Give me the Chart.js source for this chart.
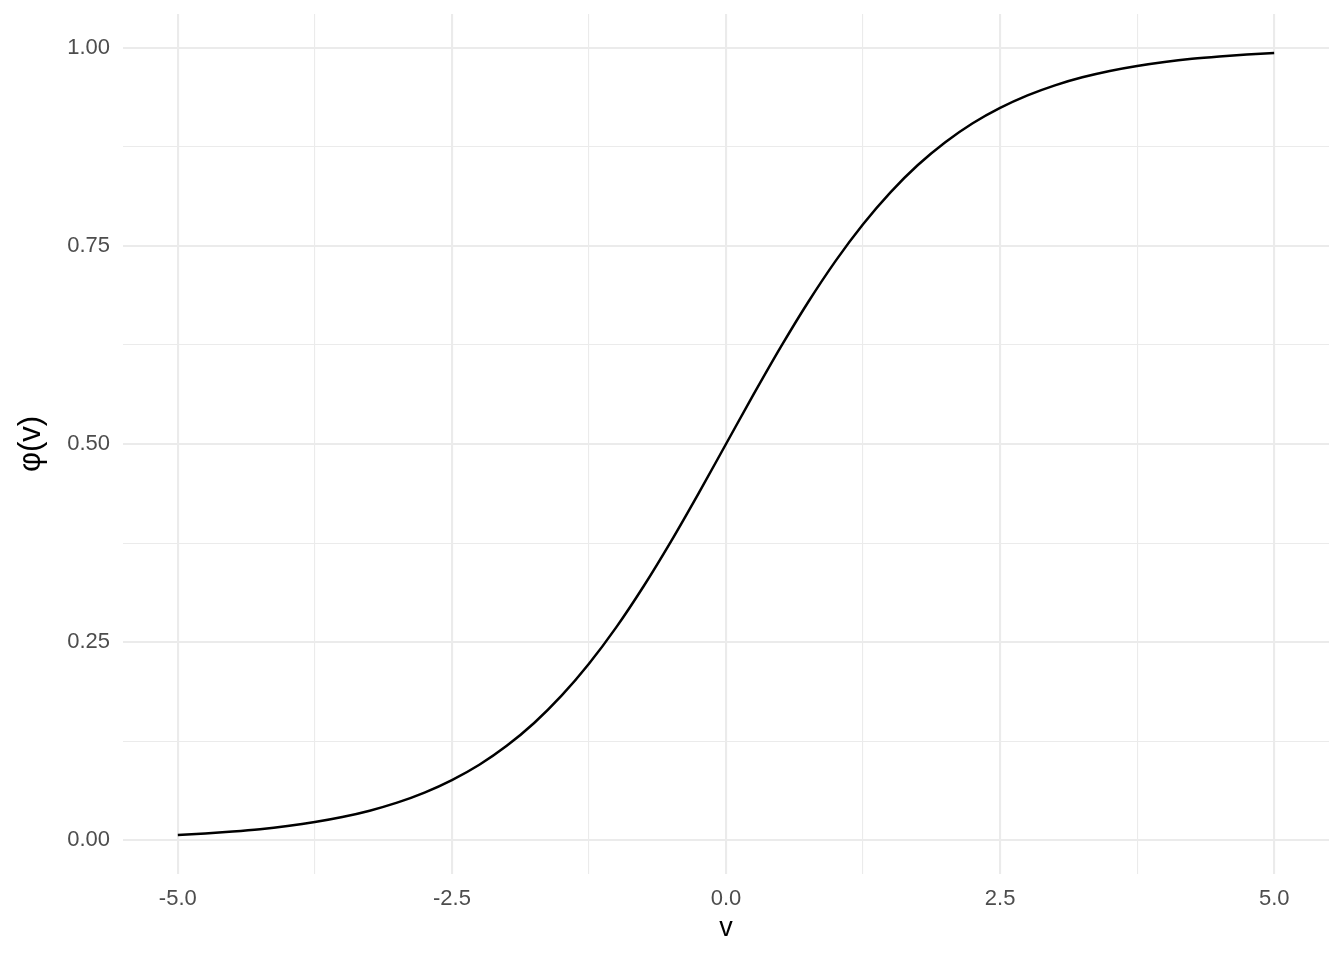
<!DOCTYPE html>
<html>
<head>
<meta charset="utf-8">
<script src="https://cdn.jsdelivr.net/npm/chart.js@4/dist/chart.umd.min.js"></script>
<style>
  html, body { margin: 0; padding: 0; background: #ffffff; }
  #wrap { width: 1344px; height: 960px; }
</style>
</head>
<body>
<div id="wrap"><canvas id="c" width="1344" height="960"></canvas></div>
<script>
// Data
const vValues = [-5, -4.75, -4.5, -4.25, -4, -3.75, -3.5, -3.25, -3, -2.75, -2.5, -2.25, -2, -1.75, -1.5, -1.25, -1, -0.75, -0.5, -0.25,
                 0, 0.25, 0.5, 0.75, 1, 1.25, 1.5, 1.75, 2, 2.25, 2.5, 2.75, 3, 3.25, 3.5, 3.75, 4, 4.25, 4.5, 4.75, 5];
const phiValues = [0.0067, 0.0086, 0.0110, 0.0140, 0.0180, 0.0230, 0.0293, 0.0373, 0.0474, 0.0601, 0.0759, 0.0953, 0.1192, 0.1480, 0.1824, 0.2227, 0.2689, 0.3208, 0.3775, 0.4378,
                   0.5000, 0.5622, 0.6225, 0.6792, 0.7311, 0.7773, 0.8176, 0.8520, 0.8808, 0.9047, 0.9241, 0.9399, 0.9526, 0.9627, 0.9707, 0.9770, 0.9820, 0.9860, 0.9890, 0.9914, 0.9933];
const xMajorTicks = [-5, -2.5, 0, 2.5, 5];
const xMinorTicks = [-3.75, -1.25, 1.25, 3.75];
const yMajorTicks = [0, 0.25, 0.5, 0.75, 1];
const yMinorTicks = [0.125, 0.375, 0.625, 0.875];
const xTickLabels = ['-5.0', '-2.5', '0.0', '2.5', '5.0'];
const yTickLabels = ['0.00', '0.25', '0.50', '0.75', '1.00'];
const xTitle = 'v';
const yTitle = 'φ(v)';

const points = vValues.map((v, i) => ({ x: v, y: phiValues[i] }));

function isMajor(list, val) { return list.some(t => Math.abs(t - val) < 1e-9); }

const FONT = 'Liberation Sans, Arial, Helvetica, sans-serif';

function zeroPad(s) { s.paddingTop = 0; s.paddingBottom = 0; s.paddingLeft = 0; s.paddingRight = 0; }

new Chart(document.getElementById('c'), {
  type: 'scatter',
  data: {
    datasets: [{
      data: points,
      showLine: true,
      borderColor: '#000000',
      borderWidth: 2.5,
      pointRadius: 0,
      cubicInterpolationMode: 'monotone',
      fill: false
    }]
  },
  options: {
    responsive: false,
    animation: false,
    devicePixelRatio: 1,
    layout: { padding: { top: 14, right: 15, bottom: 0, left: 0 } },
    plugins: { legend: { display: false }, tooltip: { enabled: false } },
    scales: {
      x: {
        type: 'linear',
        min: -5.5,
        max: 5.5,
        afterBuildTicks: (s) => {
          s.ticks = [...xMajorTicks, ...xMinorTicks].sort((a, b) => a - b).map(v => ({ value: v }));
        },
        afterFit: (s) => { s.height = 86; zeroPad(s); },
        border: { display: false },
        grid: {
          drawTicks: false,
          color: '#EBEBEB',
          lineWidth: (ctx) => isMajor(xMajorTicks, ctx.tick ? ctx.tick.value : 0) ? 2.1 : 1.1
        },
        ticks: {
          autoSkip: false,
          maxRotation: 0,
          padding: 12,
          color: '#4D4D4D',
          font: { family: FONT, size: 22 },
          callback: (val) => {
            const i = xMajorTicks.findIndex(t => Math.abs(t - val) < 1e-9);
            return i >= 0 ? xTickLabels[i] : '';
          }
        },
        title: {
          display: true,
          text: xTitle,
          color: '#000000',
          font: { family: FONT, size: 27 },
          padding: { top: 0, bottom: 15 }
        }
      },
      y: {
        type: 'linear',
        min: -0.0426,
        max: 1.0426,
        afterBuildTicks: (s) => {
          s.ticks = [...yMajorTicks, ...yMinorTicks].sort((a, b) => a - b).map(v => ({ value: v }));
        },
        afterFit: (s) => { s.width = 123; zeroPad(s); },
        border: { display: false },
        grid: {
          drawTicks: false,
          color: '#EBEBEB',
          lineWidth: (ctx) => isMajor(yMajorTicks, ctx.tick ? ctx.tick.value : 0) ? 2.1 : 1.1
        },
        ticks: {
          autoSkip: false,
          padding: 13,
          color: '#4D4D4D',
          font: { family: FONT, size: 22 },
          callback: (val) => {
            const i = yMajorTicks.findIndex(t => Math.abs(t - val) < 1e-9);
            return i >= 0 ? yTickLabels[i] : '';
          }
        },
        title: {
          display: true,
          text: yTitle,
          color: '#000000',
          font: { family: FONT, size: 31 },
          padding: { top: 13, bottom: 0 }
        }
      }
    }
  }
});
</script>
</body>
</html>
